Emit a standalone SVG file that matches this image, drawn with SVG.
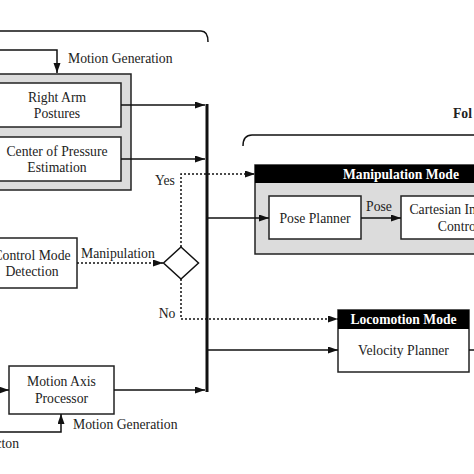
<svg xmlns="http://www.w3.org/2000/svg" width="474" height="474" viewBox="0 0 474 474">
<defs>
<marker id="ah" markerUnits="userSpaceOnUse" markerWidth="11" markerHeight="8" refX="10" refY="3.5" orient="auto"><path d="M0,0 L10,3.5 L0,7 z" fill="#111"/></marker>
<style>
.t{font-family:"Liberation Serif","Times New Roman",serif;font-size:13.7px;fill:#222}
.c{text-anchor:middle}
.b{font-family:"Liberation Serif","Times New Roman",serif;font-size:13.6px;font-weight:bold;fill:#fff;text-anchor:middle}
.bx{fill:#fff;stroke:#222;stroke-width:1.5}
.g{fill:#dcdcdc;stroke:#222;stroke-width:1.5}
.ln{fill:none;stroke:#111;stroke-width:1.5}
.dt{fill:none;stroke:#111;stroke-width:1.5;stroke-dasharray:2,2}
</style>
</defs>
<rect width="474" height="474" fill="#fff"/>
<g id="braces">
<path class="ln" d="M0,31 H201 Q208,31 208,42"/>
<path class="ln" d="M243,146 Q243,135 252,135 H474"/>
<text class="t" x="453" y="118" style="font-weight:bold">Fol</text>
</g>
<g id="sensing-group">
<rect class="g" x="-5" y="74" width="136" height="116"/>
</g>
<g id="right-arm-postures">
<rect class="bx" x="-5" y="83" width="126" height="44"/>
<text class="t c" x="57" y="102">Right Arm</text>
<text class="t c" x="57" y="118">Postures</text>
</g>
<g id="center-of-pressure">
<rect class="bx" x="-5" y="137" width="126" height="44"/>
<text class="t c" x="57" y="156">Center of Pressure</text>
<text class="t c" x="57" y="172">Estimation</text>
</g>
<g id="control-mode-detection">
<rect class="bx" x="-20" y="238" width="97" height="50"/>
<text class="t c" x="32" y="260">Control Mode</text>
<text class="t c" x="32" y="276">Detection</text>
</g>
<g id="decision">
<path d="M181,247 L198.5,263 L181,279 L163.5,263 Z" fill="#fff" stroke="#111" stroke-width="1.5"/>
</g>
<g id="motion-axis-processor">
<rect class="bx" x="9" y="366" width="105" height="48"/>
<text class="t c" x="61.5" y="386">Motion Axis</text>
<text class="t c" x="61.5" y="403">Processor</text>
</g>
<g id="manipulation-mode">
<rect class="g" x="255" y="165" width="240" height="89"/>
<rect x="255" y="165" width="240" height="18" fill="#000"/>
<text class="b" x="401" y="179">Manipulation Mode</text>
</g>
<g id="pose-planner">
<rect class="bx" x="269" y="196" width="92" height="43"/>
<text class="t c" x="315" y="223">Pose Planner</text>
</g>
<g id="cartesian-controller">
<rect class="bx" x="401" y="196" width="130" height="43"/>
<text class="t c" x="467" y="214">Cartesian Impedance</text>
<text class="t c" x="466" y="231">Controller</text>
</g>
<g id="locomotion-mode">
<rect class="bx" x="338" y="310" width="131" height="62"/>
<rect x="338" y="310" width="131" height="19" fill="#000"/>
<text class="b" x="403.5" y="324">Locomotion Mode</text>
<text class="t c" x="403.5" y="355">Velocity Planner</text>
</g>
<g id="connectors">
<line x1="207" y1="104" x2="207" y2="392" stroke="#111" stroke-width="3"/>
<path class="ln" d="M0,50 H57 V73" marker-end="url(#ah)"/>
<path class="ln" d="M121,105 H205" marker-end="url(#ah)"/>
<path class="ln" d="M121,159 H205" marker-end="url(#ah)"/>
<path class="dt" d="M77,263 H163" marker-end="url(#ah)"/>
<path class="dt" d="M181,247 V174 H255" marker-end="url(#ah)"/>
<path class="dt" d="M181,279 V319 H338" marker-end="url(#ah)"/>
<path class="ln" d="M208,218 H269" marker-end="url(#ah)"/>
<path class="ln" d="M361,218 H401" marker-end="url(#ah)"/>
<path class="ln" d="M208,350 H338" marker-end="url(#ah)"/>
<path class="ln" d="M469,350 H474"/>
<path class="ln" d="M0,390 H9" marker-end="url(#ah)"/>
<path class="ln" d="M114,390 H205" marker-end="url(#ah)"/>
<path class="ln" d="M0,432 H61 V414" marker-end="url(#ah)"/>
</g>
<g id="labels">
<text class="t" x="68" y="63">Motion Generation</text>
<text class="t c" x="165" y="185">Yes</text>
<text class="t" x="81" y="258">Manipulation</text>
<text class="t c" x="167" y="318">No</text>
<text class="t c" x="379" y="211">Pose</text>
<text class="t" x="73" y="429">Motion Generation</text>
<text class="t" x="19" y="448" text-anchor="end">cton</text>
</g>
</svg>
